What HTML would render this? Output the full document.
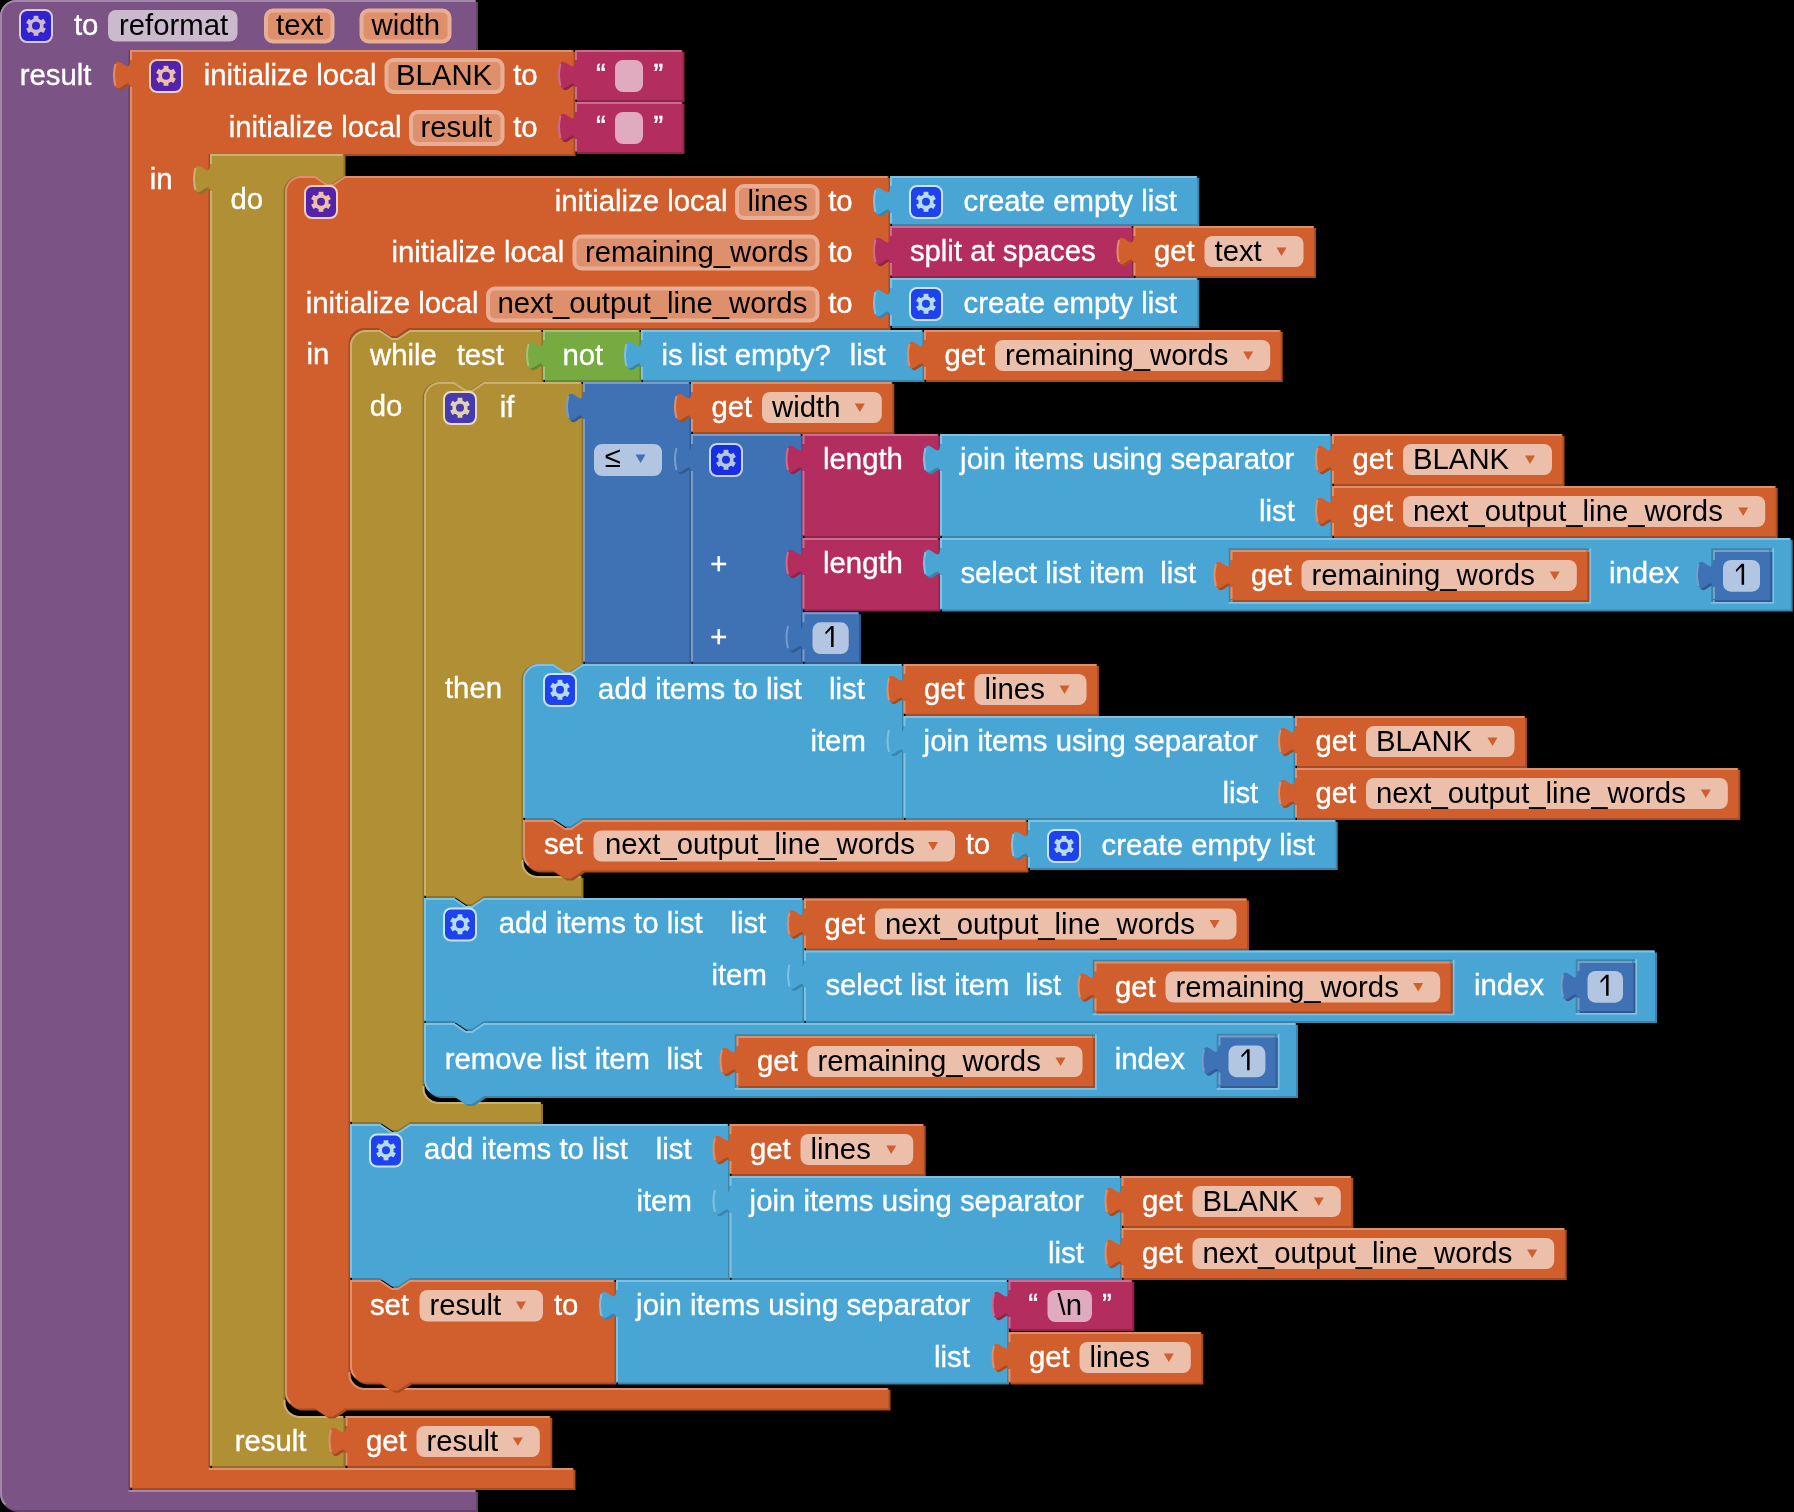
<!DOCTYPE html>
<html><head><meta charset="utf-8"><style>
html,body{margin:0;padding:0;background:#000;}
svg{display:block;will-change:transform;}
text{font-family:"Liberation Sans",sans-serif;font-size:29.333px;}
text[fill="#fff"]{stroke:#fff;stroke-width:0.35px;}
</style></head><body>
<svg width="1794" height="1512" viewBox="0 0 1794 1512">
<rect width="1794" height="1512" fill="#000"/>
<path d="M0 16 A16 16 0 0 1 16 0 H476 V50 H128.5 V1490 H476 V1510 H16 A16 16 0 0 1 0 1494 Z" fill="#63426a" transform="translate(2 2)"/>
<path d="M0 16 A16 16 0 0 1 16 0 H476 V50 H128.5 V1490 H476 V1510 H16 A16 16 0 0 1 0 1494 Z" fill="#7c5385"/>
<path d="M1 16 A15 15 0 0 1 16 1 H475 M128.5 1491 H475 M1 16 V1494 M1 1494 A15 15 0 0 0 5.5 1504.5" fill="none" stroke="#a387aa" stroke-width="2"/>
<rect x="20" y="10" width="32" height="32" rx="7" fill="#3221ce" stroke="#d8cbda" stroke-width="2"/>
<g transform="translate(36 25.8)" fill="#cbbace">
<circle r="7.6"/>
<rect x="-2.4" y="-10" width="4.8" height="5" transform="rotate(0)"/>
<rect x="-2.4" y="-10" width="4.8" height="5" transform="rotate(60)"/>
<rect x="-2.4" y="-10" width="4.8" height="5" transform="rotate(120)"/>
<rect x="-2.4" y="-10" width="4.8" height="5" transform="rotate(180)"/>
<rect x="-2.4" y="-10" width="4.8" height="5" transform="rotate(240)"/>
<rect x="-2.4" y="-10" width="4.8" height="5" transform="rotate(300)"/>
<circle r="4" fill="#3221ce"/>
</g>
<text x="73.93" y="35" fill="#fff">to</text>
<rect x="108" y="10" width="129.5" height="31.5" rx="8" fill="#cbbace"/>
<text x="119" y="34.5" fill="#000">reformat</text>
<rect x="266" y="10.5" width="66.5" height="31" rx="7" fill="#de8f6c" stroke="#e8af96" stroke-width="4"/>
<text x="276" y="34.5" fill="#000">text</text>
<rect x="361.5" y="10.5" width="88" height="31" rx="7" fill="#de8f6c" stroke="#e8af96" stroke-width="4"/>
<text x="371.5" y="34.5" fill="#000">width</text>
<text x="19.71" y="85" fill="#fff">result</text>
<path d="M130 50 H573.5 V154 H208.5 V1468 H573.5 V1488 H130 V90 C130 70 114 106 114 75 S130 80 130 60 Z" fill="#a64c24" transform="translate(2 2)"/>
<path d="M130 50 H573.5 V154 H208.5 V1468 H573.5 V1488 H130 V90 C130 70 114 106 114 75 S130 80 130 60 Z" fill="#d05f2d"/>
<path d="M130 51 H572.5 M208.5 1469 H572.5 M131 51 V60 M115.5 86 Q112.5 75 115.5 64 M131 87 V1487" fill="none" stroke="#de8f6c" stroke-width="2"/>
<rect x="150" y="60" width="32" height="32" rx="7" fill="#5324aa" stroke="#f1cfc0" stroke-width="2"/>
<g transform="translate(166 75.8)" fill="#ecbfab">
<circle r="7.6"/>
<rect x="-2.4" y="-10" width="4.8" height="5" transform="rotate(0)"/>
<rect x="-2.4" y="-10" width="4.8" height="5" transform="rotate(60)"/>
<rect x="-2.4" y="-10" width="4.8" height="5" transform="rotate(120)"/>
<rect x="-2.4" y="-10" width="4.8" height="5" transform="rotate(180)"/>
<rect x="-2.4" y="-10" width="4.8" height="5" transform="rotate(240)"/>
<rect x="-2.4" y="-10" width="4.8" height="5" transform="rotate(300)"/>
<circle r="4" fill="#5324aa"/>
</g>
<text x="203.71" y="85" fill="#fff">initialize local</text>
<rect x="386.5" y="60" width="116" height="32" rx="7" fill="#de8f6c" stroke="#e8af96" stroke-width="4"/>
<text x="396" y="85" fill="#000">BLANK</text>
<text x="513.23" y="85" fill="#fff">to</text>
<text x="228.71" y="137" fill="#fff">initialize local</text>
<rect x="411" y="112" width="91.5" height="32" rx="7" fill="#de8f6c" stroke="#e8af96" stroke-width="4"/>
<text x="420.5" y="137" fill="#000">result</text>
<text x="513.23" y="137" fill="#fff">to</text>
<text x="149.71" y="189" fill="#fff">in</text>
<path d="M575 50 H682.5 V100 H575 V90 C575 70 559 106 559 75 S575 80 575 60 Z" fill="#8f244b" transform="translate(2 2)"/>
<path d="M575 50 H682.5 V100 H575 V90 C575 70 559 106 559 75 S575 80 575 60 Z" fill="#b32d5e"/>
<path d="M575 51 H681.5 M576 51 V60 M560.5 86 Q557.5 75 560.5 64 M576 87 V99" fill="none" stroke="#ca6c8e" stroke-width="2"/>
<text x="596" y="84" fill="#fff">“</text>
<rect x="615" y="60" width="28" height="32" rx="8" fill="#e1abbf"/>
<text x="653.5" y="84" fill="#fff">”</text>
<path d="M575 102 H682.5 V152 H575 V142 C575 122 559 158 559 127 S575 132 575 112 Z" fill="#8f244b" transform="translate(2 2)"/>
<path d="M575 102 H682.5 V152 H575 V142 C575 122 559 158 559 127 S575 132 575 112 Z" fill="#b32d5e"/>
<path d="M575 103 H681.5 M576 103 V112 M560.5 138 Q557.5 127 560.5 116 M576 139 V151" fill="none" stroke="#ca6c8e" stroke-width="2"/>
<text x="596" y="136" fill="#fff">“</text>
<rect x="615" y="112" width="28" height="32" rx="8" fill="#e1abbf"/>
<text x="653.5" y="136" fill="#fff">”</text>
<path d="M210 154 H343.5 V176 H343.5 l-12 8 l-6 0 l-12 -8 H299.5 A16 16 0 0 0 283.5 192 V1400 A16 16 0 0 0 299.5 1416 H343.5 V1466 H210 V194 C210 174 194 210 194 179 S210 184 210 164 Z" fill="#8e722a" transform="translate(2 2)"/>
<path d="M210 154 H343.5 V176 H343.5 l-12 8 l-6 0 l-12 -8 H299.5 A16 16 0 0 0 283.5 192 V1400 A16 16 0 0 0 299.5 1416 H343.5 V1466 H210 V194 C210 174 194 210 194 179 S210 184 210 164 Z" fill="#b18f35"/>
<path d="M210 155 H342.5 M284.5 1400 A15 15 0 0 0 299.5 1417 H342.5 M211 155 V164 M195.5 190 Q192.5 179 195.5 168 M211 191 V1465" fill="none" stroke="#c8b172" stroke-width="2"/>
<text x="230.52" y="208.5" fill="#fff">do</text>
<text x="234.71" y="1450.5" fill="#fff">result</text>
<path d="M285 192 A16 16 0 0 1 301 176 H315 l12 8 l6 0 l12 -8 H888.5 V328 H408.5 l-12 8 l-6 0 l-12 -8 H364.5 A16 16 0 0 0 348.5 344 V1372 A16 16 0 0 0 364.5 1388 H888.5 V1408.5 H345 l-12 8 l-6 0 l-12 -8 H301 A16 16 0 0 1 285 1392.5 Z" fill="#a64c24" transform="translate(2 2)"/>
<path d="M285 192 A16 16 0 0 1 301 176 H315 l12 8 l6 0 l12 -8 H888.5 V328 H408.5 l-12 8 l-6 0 l-12 -8 H364.5 A16 16 0 0 0 348.5 344 V1372 A16 16 0 0 0 364.5 1388 H888.5 V1408.5 H345 l-12 8 l-6 0 l-12 -8 H301 A16 16 0 0 1 285 1392.5 Z" fill="#d05f2d"/>
<path d="M286 192 A15 15 0 0 1 301 177 H315 l12 8 l6 0 l12 -8 H887.5 M349.5 1372 A15 15 0 0 0 364.5 1389 H887.5 M286 192 V1392.5 M286 1392.5 A15 15 0 0 0 290.5 1403" fill="none" stroke="#de8f6c" stroke-width="2"/>
<rect x="305" y="186" width="32" height="32" rx="7" fill="#5324aa" stroke="#f1cfc0" stroke-width="2"/>
<g transform="translate(321 201.8)" fill="#ecbfab">
<circle r="7.6"/>
<rect x="-2.4" y="-10" width="4.8" height="5" transform="rotate(0)"/>
<rect x="-2.4" y="-10" width="4.8" height="5" transform="rotate(60)"/>
<rect x="-2.4" y="-10" width="4.8" height="5" transform="rotate(120)"/>
<rect x="-2.4" y="-10" width="4.8" height="5" transform="rotate(180)"/>
<rect x="-2.4" y="-10" width="4.8" height="5" transform="rotate(240)"/>
<rect x="-2.4" y="-10" width="4.8" height="5" transform="rotate(300)"/>
<circle r="4" fill="#5324aa"/>
</g>
<text x="554.71" y="210.7" fill="#fff">initialize local</text>
<rect x="737" y="186" width="80.5" height="32" rx="7" fill="#de8f6c" stroke="#e8af96" stroke-width="4"/>
<text x="747.5" y="211" fill="#000">lines</text>
<text x="828.23" y="211" fill="#fff">to</text>
<text x="391.41" y="262" fill="#fff">initialize local</text>
<rect x="574.5" y="236.5" width="243" height="32" rx="7" fill="#de8f6c" stroke="#e8af96" stroke-width="4"/>
<text x="585" y="262" fill="#000">remaining_words</text>
<text x="828.23" y="262" fill="#fff">to</text>
<text x="305.71" y="313" fill="#fff">initialize local</text>
<rect x="488" y="288.5" width="329.5" height="32" rx="7" fill="#de8f6c" stroke="#e8af96" stroke-width="4"/>
<text x="497.5" y="313" fill="#000">next_output_line_words</text>
<text x="828.23" y="313" fill="#fff">to</text>
<text x="306.41" y="364" fill="#fff">in</text>
<path d="M890 176 H1197.3 V224 H890 V216 C890 196 874 232 874 201 S890 206 890 186 Z" fill="#3a85aa" transform="translate(2 2)"/>
<path d="M890 176 H1197.3 V224 H890 V216 C890 196 874 232 874 201 S890 206 890 186 Z" fill="#49a6d4"/>
<path d="M890 177 H1196.3 M891 177 V186 M875.5 212 Q872.5 201 875.5 190 M891 213 V223" fill="none" stroke="#80c1e1" stroke-width="2"/>
<rect x="910" y="186" width="32" height="32" rx="7" fill="#1d42ee" stroke="#c8e4f2" stroke-width="2"/>
<g transform="translate(926 201.8)" fill="#b6dbee">
<circle r="7.6"/>
<rect x="-2.4" y="-10" width="4.8" height="5" transform="rotate(0)"/>
<rect x="-2.4" y="-10" width="4.8" height="5" transform="rotate(60)"/>
<rect x="-2.4" y="-10" width="4.8" height="5" transform="rotate(120)"/>
<rect x="-2.4" y="-10" width="4.8" height="5" transform="rotate(180)"/>
<rect x="-2.4" y="-10" width="4.8" height="5" transform="rotate(240)"/>
<rect x="-2.4" y="-10" width="4.8" height="5" transform="rotate(300)"/>
<circle r="4" fill="#1d42ee"/>
</g>
<text x="963.51" y="210.5" fill="#fff">create empty list</text>
<path d="M890 226 H1132 V276 H890 V266 C890 246 874 282 874 251 S890 256 890 236 Z" fill="#8f244b" transform="translate(2 2)"/>
<path d="M890 226 H1132 V276 H890 V266 C890 246 874 282 874 251 S890 256 890 236 Z" fill="#b32d5e"/>
<path d="M890 227 H1131 M891 227 V236 M875.5 262 Q872.5 251 875.5 240 M891 263 V275" fill="none" stroke="#ca6c8e" stroke-width="2"/>
<text x="909.88" y="261" fill="#fff">split at spaces</text>
<path d="M1133.5 226 H1314 V276 H1133.5 V266 C1133.5 246 1117.5 282 1117.5 251 S1133.5 256 1133.5 236 Z" fill="#a64c24" transform="translate(2 2)"/>
<path d="M1133.5 226 H1314 V276 H1133.5 V266 C1133.5 246 1117.5 282 1117.5 251 S1133.5 256 1133.5 236 Z" fill="#d05f2d"/>
<path d="M1133.5 227 H1313 M1134.5 227 V236 M1119 262 Q1116 251 1119 240 M1134.5 263 V275" fill="none" stroke="#de8f6c" stroke-width="2"/>
<text x="1154" y="261" fill="#fff">get</text>
<rect x="1204.5" y="236" width="99" height="31" rx="8" fill="#ecbfab"/>
<text x="1214.5" y="261" fill="#000">text</text>
<path d="M1276.5 247.5 h10 l-5 8.5 Z" fill="#d05f2d"/>
<path d="M890 278 H1197.3 V326 H890 V318 C890 298 874 334 874 303 S890 308 890 288 Z" fill="#3a85aa" transform="translate(2 2)"/>
<path d="M890 278 H1197.3 V326 H890 V318 C890 298 874 334 874 303 S890 308 890 288 Z" fill="#49a6d4"/>
<path d="M890 279 H1196.3 M891 279 V288 M875.5 314 Q872.5 303 875.5 292 M891 315 V325" fill="none" stroke="#80c1e1" stroke-width="2"/>
<rect x="910" y="288" width="32" height="32" rx="7" fill="#1d42ee" stroke="#c8e4f2" stroke-width="2"/>
<g transform="translate(926 303.8)" fill="#b6dbee">
<circle r="7.6"/>
<rect x="-2.4" y="-10" width="4.8" height="5" transform="rotate(0)"/>
<rect x="-2.4" y="-10" width="4.8" height="5" transform="rotate(60)"/>
<rect x="-2.4" y="-10" width="4.8" height="5" transform="rotate(120)"/>
<rect x="-2.4" y="-10" width="4.8" height="5" transform="rotate(180)"/>
<rect x="-2.4" y="-10" width="4.8" height="5" transform="rotate(240)"/>
<rect x="-2.4" y="-10" width="4.8" height="5" transform="rotate(300)"/>
<circle r="4" fill="#1d42ee"/>
</g>
<text x="963.51" y="312.5" fill="#fff">create empty list</text>
<path d="M350 346 A16 16 0 0 1 366 330 H380 l12 8 l6 0 l12 -8 H541.5 V382 H482.5 l-12 8 l-6 0 l-12 -8 H438.5 A16 16 0 0 0 422.5 398 V1086 A16 16 0 0 0 438.5 1102 H541 V1122 H410 l-12 8 l-6 0 l-12 -8 H350 Z" fill="#8e722a" transform="translate(2 2)"/>
<path d="M350 346 A16 16 0 0 1 366 330 H380 l12 8 l6 0 l12 -8 H541.5 V382 H482.5 l-12 8 l-6 0 l-12 -8 H438.5 A16 16 0 0 0 422.5 398 V1086 A16 16 0 0 0 438.5 1102 H541 V1122 H410 l-12 8 l-6 0 l-12 -8 H350 Z" fill="#b18f35"/>
<path d="M351 346 A15 15 0 0 1 366 331 H380 l12 8 l6 0 l12 -8 H540.5 M423.5 1086 A15 15 0 0 0 438.5 1103 H540 M351 346 V1121" fill="none" stroke="#c8b172" stroke-width="2"/>
<text x="370.01" y="364.5" fill="#fff">while</text>
<text x="456.63" y="364.5" fill="#fff">test</text>
<text x="369.82" y="416" fill="#fff">do</text>
<path d="M543 330 H639.5 V380 H543 V370 C543 350 527 386 527 355 S543 360 543 340 Z" fill="#5f8934" transform="translate(2 2)"/>
<path d="M543 330 H639.5 V380 H543 V370 C543 350 527 386 527 355 S543 360 543 340 Z" fill="#77ab41"/>
<path d="M543 331 H638.5 M544 331 V340 M528.5 366 Q525.5 355 528.5 344 M544 367 V379" fill="none" stroke="#a0c47a" stroke-width="2"/>
<text x="562.41" y="364.5" fill="#fff">not</text>
<path d="M641 330 H922.5 V380 H641 V370 C641 350 625 386 625 355 S641 360 641 340 Z" fill="#3a85aa" transform="translate(2 2)"/>
<path d="M641 330 H922.5 V380 H641 V370 C641 350 625 386 625 355 S641 360 641 340 Z" fill="#49a6d4"/>
<path d="M641 331 H921.5 M642 331 V340 M626.5 366 Q623.5 355 626.5 344 M642 367 V379" fill="none" stroke="#80c1e1" stroke-width="2"/>
<text x="661.41" y="364.5" fill="#fff">is list empty?</text>
<text x="849.7" y="364.5" fill="#fff">list</text>
<path d="M924 330 H1280.7 V380 H924 V370 C924 350 908 386 908 355 S924 360 924 340 Z" fill="#a64c24" transform="translate(2 2)"/>
<path d="M924 330 H1280.7 V380 H924 V370 C924 350 908 386 908 355 S924 360 924 340 Z" fill="#d05f2d"/>
<path d="M924 331 H1279.7 M925 331 V340 M909.5 366 Q906.5 355 909.5 344 M925 367 V379" fill="none" stroke="#de8f6c" stroke-width="2"/>
<text x="944.5" y="365" fill="#fff">get</text>
<rect x="995" y="340" width="275.2" height="31" rx="8" fill="#ecbfab"/>
<text x="1005" y="365" fill="#000">remaining_words</text>
<path d="M1243.2 351.5 h10 l-5 8.5 Z" fill="#d05f2d"/>
<path d="M424 398 A16 16 0 0 1 440 382 H454 l12 8 l6 0 l12 -8 H581.5 V664 H581.5 l-12 8 l-6 0 l-12 -8 H537.5 A16 16 0 0 0 521.5 680 V860 A16 16 0 0 0 537.5 876 H581.5 V896 H484 l-12 8 l-6 0 l-12 -8 H424 Z" fill="#8e722a" transform="translate(2 2)"/>
<path d="M424 398 A16 16 0 0 1 440 382 H454 l12 8 l6 0 l12 -8 H581.5 V664 H581.5 l-12 8 l-6 0 l-12 -8 H537.5 A16 16 0 0 0 521.5 680 V860 A16 16 0 0 0 537.5 876 H581.5 V896 H484 l-12 8 l-6 0 l-12 -8 H424 Z" fill="#b18f35"/>
<path d="M425 398 A15 15 0 0 1 440 383 H454 l12 8 l6 0 l12 -8 H580.5 M522.5 860 A15 15 0 0 0 537.5 877 H580.5 M425 398 V895" fill="none" stroke="#c8b172" stroke-width="2"/>
<rect x="444" y="392" width="32" height="32" rx="7" fill="#4739ae" stroke="#e8ddc2" stroke-width="2"/>
<g transform="translate(460 407.8)" fill="#e0d2ae">
<circle r="7.6"/>
<rect x="-2.4" y="-10" width="4.8" height="5" transform="rotate(0)"/>
<rect x="-2.4" y="-10" width="4.8" height="5" transform="rotate(60)"/>
<rect x="-2.4" y="-10" width="4.8" height="5" transform="rotate(120)"/>
<rect x="-2.4" y="-10" width="4.8" height="5" transform="rotate(180)"/>
<rect x="-2.4" y="-10" width="4.8" height="5" transform="rotate(240)"/>
<rect x="-2.4" y="-10" width="4.8" height="5" transform="rotate(300)"/>
<circle r="4" fill="#4739ae"/>
</g>
<text x="499.71" y="416.5" fill="#fff">if</text>
<text x="444.93" y="697.5" fill="#fff">then</text>
<path d="M583 382 H689.5 V662 H583 V422 C583 402 567 438 567 407 S583 412 583 392 Z" fill="#325a91" transform="translate(2 2)"/>
<path d="M583 382 H689.5 V662 H583 V422 C583 402 567 438 567 407 S583 412 583 392 Z" fill="#3f71b5"/>
<path d="M583 383 H688.5 M584 383 V392 M568.5 418 Q565.5 407 568.5 396 M584 419 V661" fill="none" stroke="#799ccb" stroke-width="2"/>
<rect x="594" y="444" width="68" height="32" rx="8" fill="#b2c6e1"/>
<text x="604.7" y="467.3" fill="#000">≤</text>
<path d="M635.5 454.5 h10 l-5 8.5 Z" fill="#3f71b5"/>
<path d="M691 382 H892.3 V432 H691 V422 C691 402 675 438 675 407 S691 412 691 392 Z" fill="#a64c24" transform="translate(2 2)"/>
<path d="M691 382 H892.3 V432 H691 V422 C691 402 675 438 675 407 S691 412 691 392 Z" fill="#d05f2d"/>
<path d="M691 383 H891.3 M692 383 V392 M676.5 418 Q673.5 407 676.5 396 M692 419 V431" fill="none" stroke="#de8f6c" stroke-width="2"/>
<text x="711.5" y="417" fill="#fff">get</text>
<rect x="762" y="392" width="119.8" height="31" rx="8" fill="#ecbfab"/>
<text x="772" y="417" fill="#000">width</text>
<path d="M854.8 403.5 h10 l-5 8.5 Z" fill="#d05f2d"/>
<path d="M691 434 H801 V662 H691 V474 C691 454 675 490 675 459 S691 464 691 444 Z" fill="#325a91" transform="translate(2 2)"/>
<path d="M691 434 H801 V662 H691 V474 C691 454 675 490 675 459 S691 464 691 444 Z" fill="#3f71b5"/>
<path d="M691 435 H800 M692 435 V444 M676.5 470 Q673.5 459 676.5 448 M692 471 V661" fill="none" stroke="#799ccb" stroke-width="2"/>
<rect x="710" y="444" width="32" height="32" rx="7" fill="#192de1" stroke="#c5d4e9" stroke-width="2"/>
<g transform="translate(726 459.8)" fill="#b2c6e1">
<circle r="7.6"/>
<rect x="-2.4" y="-10" width="4.8" height="5" transform="rotate(0)"/>
<rect x="-2.4" y="-10" width="4.8" height="5" transform="rotate(60)"/>
<rect x="-2.4" y="-10" width="4.8" height="5" transform="rotate(120)"/>
<rect x="-2.4" y="-10" width="4.8" height="5" transform="rotate(180)"/>
<rect x="-2.4" y="-10" width="4.8" height="5" transform="rotate(240)"/>
<rect x="-2.4" y="-10" width="4.8" height="5" transform="rotate(300)"/>
<circle r="4" fill="#192de1"/>
</g>
<text x="710.29" y="574.3" fill="#fff">+</text>
<text x="710.29" y="647.3" fill="#fff">+</text>
<path d="M802.5 434 H938.5 V536 H802.5 V474 C802.5 454 786.5 490 786.5 459 S802.5 464 802.5 444 Z" fill="#8f244b" transform="translate(2 2)"/>
<path d="M802.5 434 H938.5 V536 H802.5 V474 C802.5 454 786.5 490 786.5 459 S802.5 464 802.5 444 Z" fill="#b32d5e"/>
<path d="M802.5 435 H937.5 M803.5 435 V444 M788 470 Q785 459 788 448 M803.5 471 V535" fill="none" stroke="#ca6c8e" stroke-width="2"/>
<text x="823" y="468.5" fill="#fff">length</text>
<path d="M940 434 H1330.5 V536 H940 V474 C940 454 924 490 924 459 S940 464 940 444 Z" fill="#3a85aa" transform="translate(2 2)"/>
<path d="M940 434 H1330.5 V536 H940 V474 C940 454 924 490 924 459 S940 464 940 444 Z" fill="#49a6d4"/>
<path d="M940 435 H1329.5 M941 435 V444 M925.5 470 Q922.5 459 925.5 448 M941 471 V535" fill="none" stroke="#80c1e1" stroke-width="2"/>
<text x="960.11" y="468.5" fill="#fff">join items using separator</text>
<text x="1259" y="520.5" fill="#fff">list</text>
<path d="M1332 434 H1562.5 V484 H1332 V474 C1332 454 1316 490 1316 459 S1332 464 1332 444 Z" fill="#a64c24" transform="translate(2 2)"/>
<path d="M1332 434 H1562.5 V484 H1332 V474 C1332 454 1316 490 1316 459 S1332 464 1332 444 Z" fill="#d05f2d"/>
<path d="M1332 435 H1561.5 M1333 435 V444 M1317.5 470 Q1314.5 459 1317.5 448 M1333 471 V483" fill="none" stroke="#de8f6c" stroke-width="2"/>
<text x="1352.5" y="469" fill="#fff">get</text>
<rect x="1403" y="444" width="149" height="31" rx="8" fill="#ecbfab"/>
<text x="1413" y="469" fill="#000">BLANK</text>
<path d="M1525 455.5 h10 l-5 8.5 Z" fill="#d05f2d"/>
<path d="M1332 486 H1775.7 V536 H1332 V526 C1332 506 1316 542 1316 511 S1332 516 1332 496 Z" fill="#a64c24" transform="translate(2 2)"/>
<path d="M1332 486 H1775.7 V536 H1332 V526 C1332 506 1316 542 1316 511 S1332 516 1332 496 Z" fill="#d05f2d"/>
<path d="M1332 487 H1774.7 M1333 487 V496 M1317.5 522 Q1314.5 511 1317.5 500 M1333 523 V535" fill="none" stroke="#de8f6c" stroke-width="2"/>
<text x="1352.5" y="521" fill="#fff">get</text>
<rect x="1403" y="496" width="362.2" height="31" rx="8" fill="#ecbfab"/>
<text x="1413" y="521" fill="#000">next_output_line_words</text>
<path d="M1738.2 507.5 h10 l-5 8.5 Z" fill="#d05f2d"/>
<path d="M802.5 538 H938.5 V609.5 H802.5 V578 C802.5 558 786.5 594 786.5 563 S802.5 568 802.5 548 Z" fill="#8f244b" transform="translate(2 2)"/>
<path d="M802.5 538 H938.5 V609.5 H802.5 V578 C802.5 558 786.5 594 786.5 563 S802.5 568 802.5 548 Z" fill="#b32d5e"/>
<path d="M802.5 539 H937.5 M803.5 539 V548 M788 574 Q785 563 788 552 M803.5 575 V608.5" fill="none" stroke="#ca6c8e" stroke-width="2"/>
<text x="823" y="572.5" fill="#fff">length</text>
<path d="M940 538 H1790.7 V609.5 H940 V578 C940 558 924 594 924 563 S940 568 940 548 Z" fill="#3a85aa" transform="translate(2 2)"/>
<path d="M940 538 H1790.7 V609.5 H940 V578 C940 558 924 594 924 563 S940 568 940 548 Z" fill="#49a6d4"/>
<path d="M940 539 H1789.7 M941 539 V548 M925.5 574 Q922.5 563 925.5 552 M941 575 V608.5" fill="none" stroke="#80c1e1" stroke-width="2"/>
<path d="M1229.6 602 V549.1 H1589.3" fill="none" stroke="#3a85aa" stroke-width="1.8"/>
<path d="M1590.2 548.2 V602.9 H1228.7" fill="none" stroke="#80c1e1" stroke-width="1.8"/>
<path d="M1712.1 602 V549.1 H1772.3" fill="none" stroke="#3a85aa" stroke-width="1.8"/>
<path d="M1773.2 548.2 V602.9 H1711.2" fill="none" stroke="#80c1e1" stroke-width="1.8"/>
<text x="960.38" y="582.6" fill="#fff">select list item</text>
<text x="1160.2" y="582.6" fill="#fff">list</text>
<path d="M1230.5 550 H1587.3 V600 H1230.5 V590 C1230.5 570 1214.5 606 1214.5 575 S1230.5 580 1230.5 560 Z" fill="#a64c24" transform="translate(2 2)"/>
<path d="M1230.5 550 H1587.3 V600 H1230.5 V590 C1230.5 570 1214.5 606 1214.5 575 S1230.5 580 1230.5 560 Z" fill="#d05f2d"/>
<path d="M1230.5 551 H1586.3 M1231.5 551 V560 M1216 586 Q1213 575 1216 564 M1231.5 587 V599" fill="none" stroke="#de8f6c" stroke-width="2"/>
<text x="1251" y="585" fill="#fff">get</text>
<rect x="1301.5" y="560" width="275.3" height="31" rx="8" fill="#ecbfab"/>
<text x="1311.5" y="585" fill="#000">remaining_words</text>
<path d="M1549.8 571.5 h10 l-5 8.5 Z" fill="#d05f2d"/>
<text x="1609.01" y="582.6" fill="#fff">index</text>
<path d="M1713 550 H1770.3 V600 H1713 V590 C1713 570 1697 606 1697 575 S1713 580 1713 560 Z" fill="#325a91" transform="translate(2 2)"/>
<path d="M1713 550 H1770.3 V600 H1713 V590 C1713 570 1697 606 1697 575 S1713 580 1713 560 Z" fill="#3f71b5"/>
<path d="M1713 551 H1769.3 M1714 551 V560 M1698.5 586 Q1695.5 575 1698.5 564 M1714 587 V599" fill="none" stroke="#799ccb" stroke-width="2"/>
<rect x="1723" y="560" width="37" height="31.7" rx="8" fill="#b2c6e1"/>
<path d="M1741.6 563.8 h2.5 v21 h-2.5 Z M1741.6 563.8 L1744.1 564 L1736.3 572.1 L1735.8 569.9 Z" fill="#000"/>
<path d="M802.5 612.3 H859 V662 H802.5 V652.3 C802.5 632.3 786.5 668.3 786.5 637.3 S802.5 642.3 802.5 622.3 Z" fill="#325a91" transform="translate(2 2)"/>
<path d="M802.5 612.3 H859 V662 H802.5 V652.3 C802.5 632.3 786.5 668.3 786.5 637.3 S802.5 642.3 802.5 622.3 Z" fill="#3f71b5"/>
<path d="M802.5 613.3 H858 M803.5 613.3 V622.3 M788 648.3 Q785 637.3 788 626.3 M803.5 649.3 V661" fill="none" stroke="#799ccb" stroke-width="2"/>
<rect x="812.5" y="622.3" width="36.2" height="31.7" rx="8" fill="#b2c6e1"/>
<path d="M831.1 626.1 h2.5 v21 h-2.5 Z M831.1 626.1 L833.6 626.3 L825.8 634.4 L825.3 632.2 Z" fill="#000"/>
<path d="M523 680 A16 16 0 0 1 539 664 H553 l12 8 l6 0 l12 -8 H902 V818 H583 l-12 8 l-6 0 l-12 -8 H523 Z" fill="#3a85aa" transform="translate(2 2)"/>
<path d="M523 680 A16 16 0 0 1 539 664 H553 l12 8 l6 0 l12 -8 H902 V818 H583 l-12 8 l-6 0 l-12 -8 H523 Z" fill="#49a6d4"/>
<path d="M524 680 A15 15 0 0 1 539 665 H553 l12 8 l6 0 l12 -8 H901 M524 680 V817" fill="none" stroke="#80c1e1" stroke-width="2"/>
<rect x="544" y="674" width="32" height="32" rx="7" fill="#1d42ee" stroke="#c8e4f2" stroke-width="2"/>
<g transform="translate(560 689.8)" fill="#b6dbee">
<circle r="7.6"/>
<rect x="-2.4" y="-10" width="4.8" height="5" transform="rotate(0)"/>
<rect x="-2.4" y="-10" width="4.8" height="5" transform="rotate(60)"/>
<rect x="-2.4" y="-10" width="4.8" height="5" transform="rotate(120)"/>
<rect x="-2.4" y="-10" width="4.8" height="5" transform="rotate(180)"/>
<rect x="-2.4" y="-10" width="4.8" height="5" transform="rotate(240)"/>
<rect x="-2.4" y="-10" width="4.8" height="5" transform="rotate(300)"/>
<circle r="4" fill="#1d42ee"/>
</g>
<text x="598.11" y="699" fill="#fff">add items to list</text>
<text x="829" y="699" fill="#fff">list</text>
<text x="810.41" y="750.5" fill="#fff">item</text>
<path d="M903.5 664 H1097 V714 H903.5 V704 C903.5 684 887.5 720 887.5 689 S903.5 694 903.5 674 Z" fill="#a64c24" transform="translate(2 2)"/>
<path d="M903.5 664 H1097 V714 H903.5 V704 C903.5 684 887.5 720 887.5 689 S903.5 694 903.5 674 Z" fill="#d05f2d"/>
<path d="M903.5 665 H1096 M904.5 665 V674 M889 700 Q886 689 889 678 M904.5 701 V713" fill="none" stroke="#de8f6c" stroke-width="2"/>
<text x="924" y="699" fill="#fff">get</text>
<rect x="974.5" y="674" width="112" height="31" rx="8" fill="#ecbfab"/>
<text x="984.5" y="699" fill="#000">lines</text>
<path d="M1059.5 685.5 h10 l-5 8.5 Z" fill="#d05f2d"/>
<path d="M903.5 716 H1293.5 V818 H903.5 V756 C903.5 736 887.5 772 887.5 741 S903.5 746 903.5 726 Z" fill="#3a85aa" transform="translate(2 2)"/>
<path d="M903.5 716 H1293.5 V818 H903.5 V756 C903.5 736 887.5 772 887.5 741 S903.5 746 903.5 726 Z" fill="#49a6d4"/>
<path d="M903.5 717 H1292.5 M904.5 717 V726 M889 752 Q886 741 889 730 M904.5 753 V817" fill="none" stroke="#80c1e1" stroke-width="2"/>
<text x="923.61" y="750.5" fill="#fff">join items using separator</text>
<text x="1222.4" y="802.5" fill="#fff">list</text>
<path d="M1295 716 H1525 V766 H1295 V756 C1295 736 1279 772 1279 741 S1295 746 1295 726 Z" fill="#a64c24" transform="translate(2 2)"/>
<path d="M1295 716 H1525 V766 H1295 V756 C1295 736 1279 772 1279 741 S1295 746 1295 726 Z" fill="#d05f2d"/>
<path d="M1295 717 H1524 M1296 717 V726 M1280.5 752 Q1277.5 741 1280.5 730 M1296 753 V765" fill="none" stroke="#de8f6c" stroke-width="2"/>
<text x="1315.5" y="751" fill="#fff">get</text>
<rect x="1366" y="726" width="148.5" height="31" rx="8" fill="#ecbfab"/>
<text x="1376" y="751" fill="#000">BLANK</text>
<path d="M1487.5 737.5 h10 l-5 8.5 Z" fill="#d05f2d"/>
<path d="M1295 768 H1738.3 V818 H1295 V808 C1295 788 1279 824 1279 793 S1295 798 1295 778 Z" fill="#a64c24" transform="translate(2 2)"/>
<path d="M1295 768 H1738.3 V818 H1295 V808 C1295 788 1279 824 1279 793 S1295 798 1295 778 Z" fill="#d05f2d"/>
<path d="M1295 769 H1737.3 M1296 769 V778 M1280.5 804 Q1277.5 793 1280.5 782 M1296 805 V817" fill="none" stroke="#de8f6c" stroke-width="2"/>
<text x="1315.5" y="803" fill="#fff">get</text>
<rect x="1366" y="778" width="361.8" height="31" rx="8" fill="#ecbfab"/>
<text x="1376" y="803" fill="#000">next_output_line_words</text>
<path d="M1700.8 789.5 h10 l-5 8.5 Z" fill="#d05f2d"/>
<path d="M523 820 H553 l12 8 l6 0 l12 -8 H1026.5 V870.5 H583 l-12 8 l-6 0 l-12 -8 H539 A16 16 0 0 1 523 854.5 Z" fill="#a64c24" transform="translate(2 2)"/>
<path d="M523 820 H553 l12 8 l6 0 l12 -8 H1026.5 V870.5 H583 l-12 8 l-6 0 l-12 -8 H539 A16 16 0 0 1 523 854.5 Z" fill="#d05f2d"/>
<path d="M523 821 H553 l12 8 l6 0 l12 -8 H1025.5 M524 821 V854.5 M524 854.5 A15 15 0 0 0 528.5 865" fill="none" stroke="#de8f6c" stroke-width="2"/>
<text x="543.88" y="853.5" fill="#fff">set</text>
<rect x="593.5" y="830.5" width="361.5" height="31" rx="8" fill="#ecbfab"/>
<text x="605" y="853.5" fill="#000">next_output_line_words</text>
<path d="M928 842 h10 l-5 8.5 Z" fill="#d05f2d"/>
<text x="965.63" y="853.5" fill="#fff">to</text>
<path d="M1028 820 H1335.7 V868 H1028 V860 C1028 840 1012 876 1012 845 S1028 850 1028 830 Z" fill="#3a85aa" transform="translate(2 2)"/>
<path d="M1028 820 H1335.7 V868 H1028 V860 C1028 840 1012 876 1012 845 S1028 850 1028 830 Z" fill="#49a6d4"/>
<path d="M1028 821 H1334.7 M1029 821 V830 M1013.5 856 Q1010.5 845 1013.5 834 M1029 857 V867" fill="none" stroke="#80c1e1" stroke-width="2"/>
<rect x="1048" y="830" width="32" height="32" rx="7" fill="#1d42ee" stroke="#c8e4f2" stroke-width="2"/>
<g transform="translate(1064 845.8)" fill="#b6dbee">
<circle r="7.6"/>
<rect x="-2.4" y="-10" width="4.8" height="5" transform="rotate(0)"/>
<rect x="-2.4" y="-10" width="4.8" height="5" transform="rotate(60)"/>
<rect x="-2.4" y="-10" width="4.8" height="5" transform="rotate(120)"/>
<rect x="-2.4" y="-10" width="4.8" height="5" transform="rotate(180)"/>
<rect x="-2.4" y="-10" width="4.8" height="5" transform="rotate(240)"/>
<rect x="-2.4" y="-10" width="4.8" height="5" transform="rotate(300)"/>
<circle r="4" fill="#1d42ee"/>
</g>
<text x="1101.51" y="854.5" fill="#fff">create empty list</text>
<path d="M424 898 H454 l12 8 l6 0 l12 -8 H802.5 V1021 H484 l-12 8 l-6 0 l-12 -8 H424 Z" fill="#3a85aa" transform="translate(2 2)"/>
<path d="M424 898 H454 l12 8 l6 0 l12 -8 H802.5 V1021 H484 l-12 8 l-6 0 l-12 -8 H424 Z" fill="#49a6d4"/>
<path d="M424 899 H454 l12 8 l6 0 l12 -8 H801.5 M425 899 V1020" fill="none" stroke="#80c1e1" stroke-width="2"/>
<rect x="444" y="908.5" width="32" height="32" rx="7" fill="#1d42ee" stroke="#c8e4f2" stroke-width="2"/>
<g transform="translate(460 924.3)" fill="#b6dbee">
<circle r="7.6"/>
<rect x="-2.4" y="-10" width="4.8" height="5" transform="rotate(0)"/>
<rect x="-2.4" y="-10" width="4.8" height="5" transform="rotate(60)"/>
<rect x="-2.4" y="-10" width="4.8" height="5" transform="rotate(120)"/>
<rect x="-2.4" y="-10" width="4.8" height="5" transform="rotate(180)"/>
<rect x="-2.4" y="-10" width="4.8" height="5" transform="rotate(240)"/>
<rect x="-2.4" y="-10" width="4.8" height="5" transform="rotate(300)"/>
<circle r="4" fill="#1d42ee"/>
</g>
<text x="498.81" y="933" fill="#fff">add items to list</text>
<text x="730.4" y="933" fill="#fff">list</text>
<text x="711.41" y="985" fill="#fff">item</text>
<path d="M804 898.5 H1247 V948.5 H804 V938.5 C804 918.5 788 954.5 788 923.5 S804 928.5 804 908.5 Z" fill="#a64c24" transform="translate(2 2)"/>
<path d="M804 898.5 H1247 V948.5 H804 V938.5 C804 918.5 788 954.5 788 923.5 S804 928.5 804 908.5 Z" fill="#d05f2d"/>
<path d="M804 899.5 H1246 M805 899.5 V908.5 M789.5 934.5 Q786.5 923.5 789.5 912.5 M805 935.5 V947.5" fill="none" stroke="#de8f6c" stroke-width="2"/>
<text x="824.5" y="933.5" fill="#fff">get</text>
<rect x="875" y="908.5" width="361.5" height="31" rx="8" fill="#ecbfab"/>
<text x="885" y="933.5" fill="#000">next_output_line_words</text>
<path d="M1209.5 920 h10 l-5 8.5 Z" fill="#d05f2d"/>
<path d="M804 950.5 H1655 V1021 H804 V990.5 C804 970.5 788 1006.5 788 975.5 S804 980.5 804 960.5 Z" fill="#3a85aa" transform="translate(2 2)"/>
<path d="M804 950.5 H1655 V1021 H804 V990.5 C804 970.5 788 1006.5 788 975.5 S804 980.5 804 960.5 Z" fill="#49a6d4"/>
<path d="M804 951.5 H1654 M805 951.5 V960.5 M789.5 986.5 Q786.5 975.5 789.5 964.5 M805 987.5 V1020" fill="none" stroke="#80c1e1" stroke-width="2"/>
<path d="M1093.6 1013.5 V960.6 H1452.7" fill="none" stroke="#3a85aa" stroke-width="1.8"/>
<path d="M1453.6 959.7 V1014.4 H1092.7" fill="none" stroke="#80c1e1" stroke-width="1.8"/>
<path d="M1576.6 1013 V960.1 H1635.3" fill="none" stroke="#3a85aa" stroke-width="1.8"/>
<path d="M1636.2 959.2 V1013.9 H1575.7" fill="none" stroke="#80c1e1" stroke-width="1.8"/>
<text x="825.38" y="994.6" fill="#fff">select list item</text>
<text x="1025.2" y="994.6" fill="#fff">list</text>
<path d="M1094.5 961.5 H1450.7 V1011.5 H1094.5 V1001.5 C1094.5 981.5 1078.5 1017.5 1078.5 986.5 S1094.5 991.5 1094.5 971.5 Z" fill="#a64c24" transform="translate(2 2)"/>
<path d="M1094.5 961.5 H1450.7 V1011.5 H1094.5 V1001.5 C1094.5 981.5 1078.5 1017.5 1078.5 986.5 S1094.5 991.5 1094.5 971.5 Z" fill="#d05f2d"/>
<path d="M1094.5 962.5 H1449.7 M1095.5 962.5 V971.5 M1080 997.5 Q1077 986.5 1080 975.5 M1095.5 998.5 V1010.5" fill="none" stroke="#de8f6c" stroke-width="2"/>
<text x="1115" y="996.5" fill="#fff">get</text>
<rect x="1165.5" y="971.5" width="274.7" height="31" rx="8" fill="#ecbfab"/>
<text x="1175.5" y="996.5" fill="#000">remaining_words</text>
<path d="M1413.2 983 h10 l-5 8.5 Z" fill="#d05f2d"/>
<text x="1474.01" y="994.6" fill="#fff">index</text>
<path d="M1577.5 961 H1633.3 V1011 H1577.5 V1001 C1577.5 981 1561.5 1017 1561.5 986 S1577.5 991 1577.5 971 Z" fill="#325a91" transform="translate(2 2)"/>
<path d="M1577.5 961 H1633.3 V1011 H1577.5 V1001 C1577.5 981 1561.5 1017 1561.5 986 S1577.5 991 1577.5 971 Z" fill="#3f71b5"/>
<path d="M1577.5 962 H1632.3 M1578.5 962 V971 M1563 997 Q1560 986 1563 975 M1578.5 998 V1010" fill="none" stroke="#799ccb" stroke-width="2"/>
<rect x="1587.5" y="971" width="35.5" height="31.7" rx="8" fill="#b2c6e1"/>
<path d="M1606.1 974.8 h2.5 v21 h-2.5 Z M1606.1 974.8 L1608.6 975 L1600.8 983.1 L1600.3 980.9 Z" fill="#000"/>
<path d="M424 1023 H454 l12 8 l6 0 l12 -8 H1296 V1096 H484 l-12 8 l-6 0 l-12 -8 H440 A16 16 0 0 1 424 1080 Z" fill="#3a85aa" transform="translate(2 2)"/>
<path d="M424 1023 H454 l12 8 l6 0 l12 -8 H1296 V1096 H484 l-12 8 l-6 0 l-12 -8 H440 A16 16 0 0 1 424 1080 Z" fill="#49a6d4"/>
<path d="M424 1024 H454 l12 8 l6 0 l12 -8 H1295 M425 1024 V1080 M425 1080 A15 15 0 0 0 429.5 1090.5" fill="none" stroke="#80c1e1" stroke-width="2"/>
<path d="M735.6 1088 V1035.1 H1095" fill="none" stroke="#3a85aa" stroke-width="1.8"/>
<path d="M1095.9 1034.2 V1088.9 H734.7" fill="none" stroke="#80c1e1" stroke-width="1.8"/>
<path d="M1217.6 1088 V1034.6 H1277.7" fill="none" stroke="#3a85aa" stroke-width="1.8"/>
<path d="M1278.6 1033.7 V1088.9 H1216.7" fill="none" stroke="#80c1e1" stroke-width="1.8"/>
<text x="444.71" y="1068.7" fill="#fff">remove list item</text>
<text x="666.4" y="1068.7" fill="#fff">list</text>
<path d="M736.5 1036 H1093 V1086 H736.5 V1076 C736.5 1056 720.5 1092 720.5 1061 S736.5 1066 736.5 1046 Z" fill="#a64c24" transform="translate(2 2)"/>
<path d="M736.5 1036 H1093 V1086 H736.5 V1076 C736.5 1056 720.5 1092 720.5 1061 S736.5 1066 736.5 1046 Z" fill="#d05f2d"/>
<path d="M736.5 1037 H1092 M737.5 1037 V1046 M722 1072 Q719 1061 722 1050 M737.5 1073 V1085" fill="none" stroke="#de8f6c" stroke-width="2"/>
<text x="757" y="1071" fill="#fff">get</text>
<rect x="807.5" y="1046" width="275" height="31" rx="8" fill="#ecbfab"/>
<text x="817.5" y="1071" fill="#000">remaining_words</text>
<path d="M1055.5 1057.5 h10 l-5 8.5 Z" fill="#d05f2d"/>
<text x="1114.71" y="1068.7" fill="#fff">index</text>
<path d="M1218.5 1035.5 H1275.7 V1086 H1218.5 V1075.5 C1218.5 1055.5 1202.5 1091.5 1202.5 1060.5 S1218.5 1065.5 1218.5 1045.5 Z" fill="#325a91" transform="translate(2 2)"/>
<path d="M1218.5 1035.5 H1275.7 V1086 H1218.5 V1075.5 C1218.5 1055.5 1202.5 1091.5 1202.5 1060.5 S1218.5 1065.5 1218.5 1045.5 Z" fill="#3f71b5"/>
<path d="M1218.5 1036.5 H1274.7 M1219.5 1036.5 V1045.5 M1204 1071.5 Q1201 1060.5 1204 1049.5 M1219.5 1072.5 V1085" fill="none" stroke="#799ccb" stroke-width="2"/>
<rect x="1228.5" y="1045.5" width="36.9" height="31.7" rx="8" fill="#b2c6e1"/>
<path d="M1247.1 1049.3 h2.5 v21 h-2.5 Z M1247.1 1049.3 L1249.6 1049.5 L1241.8 1057.6 L1241.3 1055.4 Z" fill="#000"/>
<path d="M350 1124 H380 l12 8 l6 0 l12 -8 H728 V1278 H410 l-12 8 l-6 0 l-12 -8 H350 Z" fill="#3a85aa" transform="translate(2 2)"/>
<path d="M350 1124 H380 l12 8 l6 0 l12 -8 H728 V1278 H410 l-12 8 l-6 0 l-12 -8 H350 Z" fill="#49a6d4"/>
<path d="M350 1125 H380 l12 8 l6 0 l12 -8 H727 M351 1125 V1277" fill="none" stroke="#80c1e1" stroke-width="2"/>
<rect x="370" y="1134.5" width="32" height="32" rx="7" fill="#1d42ee" stroke="#c8e4f2" stroke-width="2"/>
<g transform="translate(386 1150.3)" fill="#b6dbee">
<circle r="7.6"/>
<rect x="-2.4" y="-10" width="4.8" height="5" transform="rotate(0)"/>
<rect x="-2.4" y="-10" width="4.8" height="5" transform="rotate(60)"/>
<rect x="-2.4" y="-10" width="4.8" height="5" transform="rotate(120)"/>
<rect x="-2.4" y="-10" width="4.8" height="5" transform="rotate(180)"/>
<rect x="-2.4" y="-10" width="4.8" height="5" transform="rotate(240)"/>
<rect x="-2.4" y="-10" width="4.8" height="5" transform="rotate(300)"/>
<circle r="4" fill="#1d42ee"/>
</g>
<text x="424.11" y="1158.5" fill="#fff">add items to list</text>
<text x="655.7" y="1158.5" fill="#fff">list</text>
<text x="636.41" y="1210.5" fill="#fff">item</text>
<path d="M729.5 1124 H923.7 V1174 H729.5 V1164 C729.5 1144 713.5 1180 713.5 1149 S729.5 1154 729.5 1134 Z" fill="#a64c24" transform="translate(2 2)"/>
<path d="M729.5 1124 H923.7 V1174 H729.5 V1164 C729.5 1144 713.5 1180 713.5 1149 S729.5 1154 729.5 1134 Z" fill="#d05f2d"/>
<path d="M729.5 1125 H922.7 M730.5 1125 V1134 M715 1160 Q712 1149 715 1138 M730.5 1161 V1173" fill="none" stroke="#de8f6c" stroke-width="2"/>
<text x="750" y="1159" fill="#fff">get</text>
<rect x="800.5" y="1134" width="112.7" height="31" rx="8" fill="#ecbfab"/>
<text x="810.5" y="1159" fill="#000">lines</text>
<path d="M886.2 1145.5 h10 l-5 8.5 Z" fill="#d05f2d"/>
<path d="M729.5 1176 H1120 V1278 H729.5 V1216 C729.5 1196 713.5 1232 713.5 1201 S729.5 1206 729.5 1186 Z" fill="#3a85aa" transform="translate(2 2)"/>
<path d="M729.5 1176 H1120 V1278 H729.5 V1216 C729.5 1196 713.5 1232 713.5 1201 S729.5 1206 729.5 1186 Z" fill="#49a6d4"/>
<path d="M729.5 1177 H1119 M730.5 1177 V1186 M715 1212 Q712 1201 715 1190 M730.5 1213 V1277" fill="none" stroke="#80c1e1" stroke-width="2"/>
<text x="749.61" y="1210.5" fill="#fff">join items using separator</text>
<text x="1048" y="1262.5" fill="#fff">list</text>
<path d="M1121.5 1176 H1351.3 V1226 H1121.5 V1216 C1121.5 1196 1105.5 1232 1105.5 1201 S1121.5 1206 1121.5 1186 Z" fill="#a64c24" transform="translate(2 2)"/>
<path d="M1121.5 1176 H1351.3 V1226 H1121.5 V1216 C1121.5 1196 1105.5 1232 1105.5 1201 S1121.5 1206 1121.5 1186 Z" fill="#d05f2d"/>
<path d="M1121.5 1177 H1350.3 M1122.5 1177 V1186 M1107 1212 Q1104 1201 1107 1190 M1122.5 1213 V1225" fill="none" stroke="#de8f6c" stroke-width="2"/>
<text x="1142" y="1211" fill="#fff">get</text>
<rect x="1192.5" y="1186" width="148.3" height="31" rx="8" fill="#ecbfab"/>
<text x="1202.5" y="1211" fill="#000">BLANK</text>
<path d="M1313.8 1197.5 h10 l-5 8.5 Z" fill="#d05f2d"/>
<path d="M1121.5 1228 H1564.7 V1278 H1121.5 V1268 C1121.5 1248 1105.5 1284 1105.5 1253 S1121.5 1258 1121.5 1238 Z" fill="#a64c24" transform="translate(2 2)"/>
<path d="M1121.5 1228 H1564.7 V1278 H1121.5 V1268 C1121.5 1248 1105.5 1284 1105.5 1253 S1121.5 1258 1121.5 1238 Z" fill="#d05f2d"/>
<path d="M1121.5 1229 H1563.7 M1122.5 1229 V1238 M1107 1264 Q1104 1253 1107 1242 M1122.5 1265 V1277" fill="none" stroke="#de8f6c" stroke-width="2"/>
<text x="1142" y="1263" fill="#fff">get</text>
<rect x="1192.5" y="1238" width="361.7" height="31" rx="8" fill="#ecbfab"/>
<text x="1202.5" y="1263" fill="#000">next_output_line_words</text>
<path d="M1527.2 1249.5 h10 l-5 8.5 Z" fill="#d05f2d"/>
<path d="M350 1280 H380 l12 8 l6 0 l12 -8 H614.5 V1382.5 H410 l-12 8 l-6 0 l-12 -8 H366 A16 16 0 0 1 350 1366.5 Z" fill="#a64c24" transform="translate(2 2)"/>
<path d="M350 1280 H380 l12 8 l6 0 l12 -8 H614.5 V1382.5 H410 l-12 8 l-6 0 l-12 -8 H366 A16 16 0 0 1 350 1366.5 Z" fill="#d05f2d"/>
<path d="M350 1281 H380 l12 8 l6 0 l12 -8 H613.5 M351 1281 V1366.5 M351 1366.5 A15 15 0 0 0 355.5 1377" fill="none" stroke="#de8f6c" stroke-width="2"/>
<text x="369.88" y="1314.5" fill="#fff">set</text>
<rect x="419.5" y="1290" width="123.5" height="31.5" rx="8" fill="#ecbfab"/>
<text x="429.5" y="1314.5" fill="#000">result</text>
<path d="M516 1301.5 h10 l-5 8.5 Z" fill="#d05f2d"/>
<text x="553.93" y="1314.5" fill="#fff">to</text>
<path d="M616 1280 H1007 V1382.5 H616 V1320 C616 1300 600 1336 600 1305 S616 1310 616 1290 Z" fill="#3a85aa" transform="translate(2 2)"/>
<path d="M616 1280 H1007 V1382.5 H616 V1320 C616 1300 600 1336 600 1305 S616 1310 616 1290 Z" fill="#49a6d4"/>
<path d="M616 1281 H1006 M617 1281 V1290 M601.5 1316 Q598.5 1305 601.5 1294 M617 1317 V1381.5" fill="none" stroke="#80c1e1" stroke-width="2"/>
<text x="636.11" y="1314.5" fill="#fff">join items using separator</text>
<text x="934" y="1366.5" fill="#fff">list</text>
<path d="M1008.5 1280 H1132.3 V1329 H1008.5 V1320 C1008.5 1300 992.5 1336 992.5 1305 S1008.5 1310 1008.5 1290 Z" fill="#8f244b" transform="translate(2 2)"/>
<path d="M1008.5 1280 H1132.3 V1329 H1008.5 V1320 C1008.5 1300 992.5 1336 992.5 1305 S1008.5 1310 1008.5 1290 Z" fill="#b32d5e"/>
<path d="M1008.5 1281 H1131.3 M1009.5 1281 V1290 M994 1316 Q991 1305 994 1294 M1009.5 1317 V1328" fill="none" stroke="#ca6c8e" stroke-width="2"/>
<text x="1028.2" y="1314" fill="#fff">“</text>
<rect x="1047.5" y="1290" width="44.46" height="32" rx="8" fill="#e1abbf"/>
<text x="1057.5" y="1315" fill="#000">\n</text>
<text x="1101.96" y="1314" fill="#fff">”</text>
<path d="M1008.5 1332 H1201.3 V1382.5 H1008.5 V1372 C1008.5 1352 992.5 1388 992.5 1357 S1008.5 1362 1008.5 1342 Z" fill="#a64c24" transform="translate(2 2)"/>
<path d="M1008.5 1332 H1201.3 V1382.5 H1008.5 V1372 C1008.5 1352 992.5 1388 992.5 1357 S1008.5 1362 1008.5 1342 Z" fill="#d05f2d"/>
<path d="M1008.5 1333 H1200.3 M1009.5 1333 V1342 M994 1368 Q991 1357 994 1346 M1009.5 1369 V1381.5" fill="none" stroke="#de8f6c" stroke-width="2"/>
<text x="1029" y="1367" fill="#fff">get</text>
<rect x="1079.5" y="1342" width="111.3" height="31" rx="8" fill="#ecbfab"/>
<text x="1089.5" y="1367" fill="#000">lines</text>
<path d="M1163.8 1353.5 h10 l-5 8.5 Z" fill="#d05f2d"/>
<path d="M345.5 1416 H550.3 V1466 H345.5 V1456 C345.5 1436 329.5 1472 329.5 1441 S345.5 1446 345.5 1426 Z" fill="#a64c24" transform="translate(2 2)"/>
<path d="M345.5 1416 H550.3 V1466 H345.5 V1456 C345.5 1436 329.5 1472 329.5 1441 S345.5 1446 345.5 1426 Z" fill="#d05f2d"/>
<path d="M345.5 1417 H549.3 M346.5 1417 V1426 M331 1452 Q328 1441 331 1430 M346.5 1453 V1465" fill="none" stroke="#de8f6c" stroke-width="2"/>
<text x="366" y="1451" fill="#fff">get</text>
<rect x="416.5" y="1426" width="123.3" height="31" rx="8" fill="#ecbfab"/>
<text x="426.5" y="1451" fill="#000">result</text>
<path d="M512.8 1437.5 h10 l-5 8.5 Z" fill="#d05f2d"/>
</svg>
</body></html>
